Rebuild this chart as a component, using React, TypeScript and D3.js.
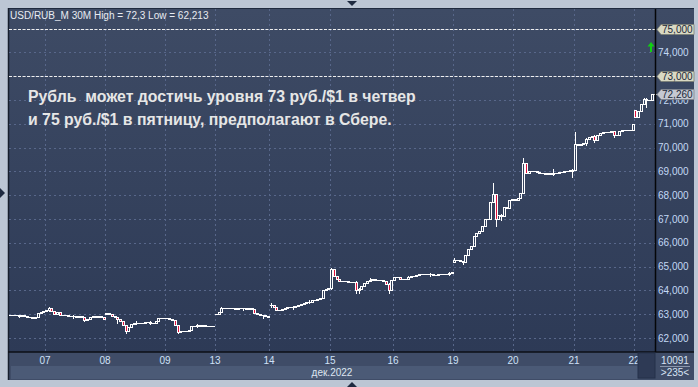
import React from 'react';
import * as d3 from 'd3';

const W = 698;
const H = 387;

const title = 'USD/RUB_M 30M High = 72,3 Low = 62,213';
const noteLines = [
  'Рубль  может достичь уровня 73 руб./$1 в четвер',
  'и 75 руб./$1 в пятницу, предполагают в Сбере.',
];
const monthLabel = 'дек.2022';
const footerTop = '10091';
const footerBottom = '>235<';

const dayLabels = ['06', '07', '08', '09', '13', '14', '15', '16', '19', '20', '21', '22'];
const dayOpens = [62.95, 63.15, 63.0, 62.82, 63.0, 63.4, 64.12, 64.45, 65.2, 67.85, 69.05, 71.6];

const closes06 = [62.95, 62.96, 62.95, 62.93, 62.95, 62.92, 62.9, 62.87, 62.86, 62.88, 63.05, 63.1, 63.15];
const closes07 = [63.18, 63.25, 63.12, 63.02, 63.1, 62.98, 62.96, 62.95, 62.93, 62.94, 62.92, 62.9, 62.91, 62.89, 62.76, 62.78, 62.9, 62.92, 62.9, 62.93, 62.88, 62.8];
const closes08 = [63.03, 63.0, 62.93, 62.9, 62.78, 62.72, 62.55, 62.28, 62.45, 62.58, 62.62, 62.63, 62.64, 62.62, 62.66, 62.68, 62.64, 62.63, 62.7, 62.82, 62.84, 62.82];
const closes09 = [62.82, 62.8, 62.76, 62.55, 62.27, 62.28, 62.3, 62.28, 62.35, 62.5, 62.52, 62.55, 62.5, 62.53, 62.5, 62.52, 62.5, 62.5];
const closes13 = [63.02, 63.1, 63.27, 63.26, 63.25, 63.24, 63.25, 63.23, 63.24, 63.25, 63.24, 63.23, 63.25, 63.2, 63.05, 63.0, 62.98, 62.95, 62.93, 62.87];
const closes14 = [63.38, 63.3, 63.18, 63.17, 63.2, 63.28, 63.3, 63.32, 63.31, 63.35, 63.37, 63.42, 63.45, 63.5, 63.52, 63.58, 63.6, 63.62, 63.7, 64.0, 64.05, 64.12];
const closes15 = [64.9, 64.62, 64.48, 64.4, 64.38, 64.4, 64.36, 64.36, 64.35, 64.02, 64.05, 64.18, 64.3, 64.4, 64.45, 64.47, 64.44, 64.45, 64.42, 64.4, 64.28, 64.02, 64.43];
const closes16 = [64.55, 64.57, 64.48, 64.46, 64.5, 64.55, 64.6, 64.62, 64.66, 64.68, 64.67, 64.69, 64.68, 64.7, 64.64, 64.66, 64.68, 64.67, 64.69, 64.68, 64.72, 64.76];
const closes19 = [65.28, 65.27, 65.22, 65.2, 65.5, 65.75, 65.88, 66.3, 66.4, 66.48, 66.7, 67.0, 67.02, 67.7, 68.05, 67.0, 67.15, 67.12, 67.5, 67.48, 67.8, 67.85];
const closes20 = [67.8, 67.9, 68.1, 69.35, 68.95, 69.0, 69.02, 69.03, 68.98, 68.94, 68.92, 68.9, 68.92, 68.91, 68.93, 68.95, 68.97, 68.96, 69.02, 69.0, 69.05, 69.02];
const closes21 = [70.15, 70.12, 70.15, 70.18, 70.35, 70.45, 70.5, 70.32, 70.55, 70.62, 70.64, 70.66, 70.65, 70.68, 70.52, 70.55, 70.68, 70.72, 70.75, 70.74, 70.72, 71.0];
const closes22 = [71.3, 71.55, 71.85, 72.05, 71.98, 72.0, 72.24, 72.26];

const dayCloses = [closes06, closes07, closes08, closes09, closes13, closes14, closes15, closes16, closes19, closes20, closes21, closes22];

// [day, index in day, high, low]
const spikes: [string, number, number, number][] = [
  ['06', 3, 62.98, 62.9], ['07', 1, 63.3, 63.15], ['07', 14, 62.8, 62.7], ['07', 10, 62.95, 62.85],
  ['08', 4, 62.8, 62.65], ['08', 7, 62.45, 62.2], ['08', 11, 62.7, 62.58], ['08', 16, 62.7, 62.6],
  ['09', 4, 62.55, 62.22], ['09', 11, 62.6, 62.45], ['13', 2, 63.32, 63.1], ['13', 10, 63.27, 63.18],
  ['13', 17, 62.98, 62.85], ['14', 0, 63.45, 63.3], ['14', 8, 63.34, 63.22], ['14', 14, 63.58, 63.48],
  ['15', 0, 64.95, 64.05], ['15', 9, 64.38, 63.9], ['15', 10, 64.1, 63.9], ['15', 21, 64.3, 63.9],
  ['15', 14, 64.52, 64.4], ['16', 5, 64.6, 64.48], ['16', 13, 64.75, 64.6], ['16', 20, 64.78, 64.66],
  ['19', 0, 65.38, 65.18], ['19', 3, 65.25, 65.1], ['19', 14, 68.5, 67.7], ['19', 15, 68.05, 66.7],
  ['19', 17, 67.2, 66.95], ['20', 3, 69.55, 68.1], ['20', 14, 69.1, 68.85], ['20', 21, 69.1, 68.75],
  ['21', 0, 70.65, 69.05], ['21', 7, 70.52, 70.25], ['21', 14, 70.7, 70.45], ['21', 4, 70.4, 70.1],
  ['22', 3, 72.1, 71.85], ['22', 4, 72.08, 71.7],
];

const priceTicks = [62, 63, 64, 65, 66, 67, 68, 69, 70, 71, 72, 73, 74, 75];
const levelLines = [75, 73];
const lastPrice = 72.26;
const arrowLevel = 74;

type Candle = { i: number; o: number; h: number; l: number; c: number; day: string; first: boolean };

const candles: Candle[] = [];
dayCloses.forEach((arr, d) => {
  let prev = dayOpens[d];
  arr.forEach((c, k) => {
    const sp = spikes.find((s) => s[0] === dayLabels[d] && s[1] === k);
    const o = prev;
    candles.push({
      i: candles.length,
      o,
      c,
      h: sp ? Math.max(sp[2], o, c) : Math.max(o, c),
      l: sp ? Math.min(sp[3], o, c) : Math.min(o, c),
      day: dayLabels[d],
      first: k === 0,
    });
    prev = c;
  });
});

const fmtLocale = d3.formatLocale({ decimal: ',', thousands: ' ', grouping: [3], currency: ['', ''] });
const fmt = fmtLocale.format('.3f');

const FONT = '"Liberation Sans", Arial, sans-serif';

export default function App() {
  const plotL = 9;
  const plotR = 655;
  const plotT = 9;
  const plotB = 352;

  const x = d3.scaleBand<number>().domain(candles.map((c) => c.i)).range([9, 656]).padding(0);
  const y = d3.scaleLinear().domain([62, 75]).range([338, 28.6]);
  const step = x.step();

  const firstIdx = candles.filter((c) => c.first);

  const red = '#e0103c';
  const lastY = Math.round(y(lastPrice)) + 0.5;

  return (
    <svg width={W} height={H} style={{ position: 'absolute', left: 0, top: 0 }} fontFamily={FONT}>
      <defs>
        <linearGradient id="bg" x1="0" y1="0" x2="0" y2="1">
          <stop offset="0" stopColor="#3e4b65" />
          <stop offset="1" stopColor="#2d3a56" />
        </linearGradient>
        <clipPath id="tickClip">
          <rect x={655} y={lastY + 5.5} width={43} height={300} />
          <rect x={655} y={0} width={43} height={lastY - 5.5} />
        </clipPath>
      </defs>
      <rect x={0} y={0} width={W} height={H} fill="#bcc6d4" />
      {/* panel */}
      <rect x={8} y={8} width={686} height={372} fill="#3f4c67" />
      <rect x={plotL} y={plotT} width={plotR - plotL} height={plotB - plotT} fill="url(#bg)" />
      <rect x={plotR} y={plotT} width={694 - plotR} height={plotB - plotT} fill="url(#bg)" />
      {/* borders */}
      <line x1={8} y1={8.5} x2={694} y2={8.5} stroke="#1f2a3e" />
      <line x1={8.5} y1={8} x2={8.5} y2={380} stroke="#161e2c" strokeWidth={1.5} />
      <line x1={8} y1={352} x2={694} y2={352} stroke="#0c0f16" strokeWidth={1.5} />
      {/* grid */}
      {priceTicks.map((v) => (
        <line key={'g' + v} x1={plotL} x2={plotR} y1={Math.round(y(v)) + 0.5} y2={Math.round(y(v)) + 0.5} stroke="#58678a" strokeDasharray="2,3" />
      ))}
      {firstIdx.slice(1).map((c) => (
        <line key={'v' + c.i} x1={Math.round(x(c.i)!) + 0.5} x2={Math.round(x(c.i)!) + 0.5} y1={plotT} y2={plotB} stroke="#58678a" strokeDasharray="2,3" />
      ))}
      {/* level lines */}
      {levelLines.map((v) => (
        <line key={'l' + v} x1={plotL} x2={plotR} y1={Math.round(y(v)) + 0.5} y2={Math.round(y(v)) + 0.5} stroke="#eeeeee" strokeDasharray="3,1.5" />
      ))}
      {/* candles */}
      {candles.map((c) => {
        const px = Math.round(x(c.i)! + step / 2);
        const top = Math.round(y(Math.max(c.o, c.c)));
        const bot = Math.round(y(Math.min(c.o, c.c)));
        const hy = Math.round(y(c.h));
        const ly = Math.round(y(c.l));
        const down = c.c < c.o;
        const els: React.ReactNode[] = [];
        if (hy < top) els.push(<line key="hw" x1={px + 0.5} x2={px + 0.5} y1={hy} y2={top} stroke="#ffffff" />);
        if (ly > bot) els.push(<line key="lw" x1={px + 0.5} x2={px + 0.5} y1={bot + 1} y2={ly + 1} stroke="#ffffff" />);
        if (bot - top < 1) {
          els.push(<line key="b" x1={px - 1} x2={px + 2} y1={top + 0.5} y2={top + 0.5} stroke="#ffffff" />);
        } else {
          els.push(
            <rect key="b" x={px - 0.5} y={top + 0.5} width={2} height={bot - top} fill={down ? red : 'none'} stroke="#ffffff" strokeWidth={1} />
          );
        }
        return <g key={'c' + c.i}>{els}</g>;
      })}
      {/* right axis line */}
      <line x1={plotR + 0.5} x2={plotR + 0.5} y1={plotT} y2={plotB} stroke="#050608" strokeWidth={1.5} />
      {/* right tick labels */}
      <g clipPath="url(#tickClip)">
        {priceTicks.filter((v) => !levelLines.includes(v)).map((v) => (
          <text key={'t' + v} x={658} y={y(v) + 3.6} fontSize={10} fill="#c3d9f5">{fmt(v)}</text>
        ))}
      </g>
      {/* level boxes */}
      {levelLines.map((v) => {
        const cy = Math.round(y(v)) + 0.5;
        return (
          <g key={'bx' + v}>
            <path d={`M657,${cy} L661,${cy - 5} L694,${cy - 5} L694,${cy + 5} L661,${cy + 5} Z`} fill="#d9d9c3" stroke="#7a7d74" strokeWidth={0.8} />
            <text x={662} y={cy + 3.6} fontSize={10} fill="#202838">{fmt(v)}</text>
          </g>
        );
      })}
      <g>
        <path d={`M657,${lastY} L661,${lastY - 5} L694,${lastY - 5} L694,${lastY + 5} L661,${lastY + 5} Z`} fill="#c5c9d1" stroke="#7f848e" strokeWidth={0.8} />
        <text x={662} y={lastY + 3.6} fontSize={10} fill="#202838">{fmt(lastPrice)}</text>
      </g>
      {/* green arrow */}
      {(() => {
        const base = Math.round(y(arrowLevel));
        const ax = 651;
        return (
          <path d={`M${ax},${base - 10} L${ax + 3.5},${base - 5.5} L${ax + 1},${base - 5.5} L${ax + 1},${base} L${ax - 1},${base} L${ax - 1},${base - 5.5} L${ax - 3.5},${base - 5.5} Z`} fill="#10d010" />
        );
      })()}
      {/* title */}
      <text x={10} y={19} fontSize={10} fill="#e8ecf2">{title}</text>
      {/* annotation */}
      {noteLines.map((t, k) => (
        <text key={'n' + k} x={28} y={102 + k * 22.5} fontSize={15.8} fontWeight="bold" fill="#e6e6e6" style={{ whiteSpace: 'pre' }}>{t}</text>
      ))}
      {/* x axis */}
      {firstIdx.slice(1).map((c) => (
        <text key={'d' + c.i} x={Math.round(x(c.i)!)} y={364} fontSize={10} fill="#cfe1f7" textAnchor="middle">{c.day}</text>
      ))}
      <rect x={11} y={366} width={627} height={13} fill="#4b5a76" />
      <text x={332} y={376} fontSize={10} fill="#dde5f0" textAnchor="middle">{monthLabel}</text>
      <rect x={638} y={353} width={17} height={25} fill="#2e3a55" stroke="#25304a" />
      {/* right footer */}
      <rect x={656} y={353} width={38} height={27} fill="#3f4c67" />
      <text x={675} y={364} fontSize={10} fill="#d8e4f4" textAnchor="middle">{footerTop}</text>
      <line x1={660} x2={690} y1={366.5} y2={366.5} stroke="#8a96ab" />
      <text x={675} y={376} fontSize={10} fill="#d8e4f4" textAnchor="middle">{footerBottom}</text>
      {/* navigation triangles */}
      <path d="M347,1 L357,1 L352,6 Z" fill="#1e2a40" />
      <path d="M0,188 L5,193 L0,198 Z" fill="#1e2a40" />
      <path d="M347,387 L357,387 L352,382 Z" fill="#1e2a40" />
    </svg>
  );
}
